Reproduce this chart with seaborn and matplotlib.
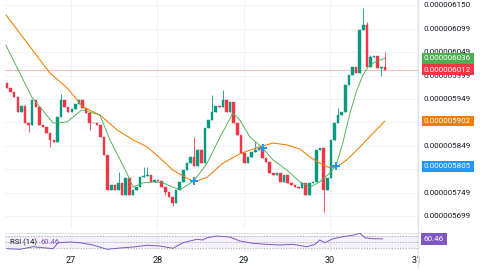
import numpy as np
import pandas as pd
import matplotlib
matplotlib.use("Agg")
import matplotlib.pyplot as plt
import matplotlib.transforms as mtransforms
from matplotlib.lines import Line2D
import seaborn as sns

# ─── Data (prices in units of 1e-9, one candle per hour) ───
first_open = 5983
closes = [
    5973, 5964, 5953, 5921, 5934, 5898, 5894, 5947, 5932, 5894,
    5889, 5877, 5862, 5857, 5911, 5947, 5932, 5921, 5928, 5939,
    5947, 5930, 5919, 5898, 5897, 5893, 5868, 5830, 5755, 5765,
    5755, 5770, 5744, 5780, 5744, 5755, 5761, 5782, 5785, 5786,
    5772, 5776, 5774, 5761, 5750, 5740, 5727, 5755, 5772, 5797,
    5812, 5825, 5806, 5840, 5812, 5887, 5904, 5921, 5934, 5932,
    5947, 5921, 5943, 5898, 5872, 5834, 5812, 5825, 5836, 5840,
    5845, 5823, 5815, 5791, 5787, 5791, 5772, 5787, 5770, 5765,
    5761, 5759, 5770, 5744, 5770, 5772, 5840, 5845, 5755, 5780,
    5862, 5898, 5915, 5921, 5979, 6000, 6018, 6005, 6097, 6107,
    6018, 6039, 6041, 6015, 6017, 6012,
]
wick_highs = {15: 5960, 31: 5793, 38: 5804, 39: 5804, 52: 5868, 57: 5958,
              60: 5968, 69: 5857, 92: 5930, 99: 6144, 100: 6114, 101: 6043,
              105: 6050}
wick_lows = {6: 5879, 12: 5847, 23: 5883, 44: 5744, 46: 5721, 88: 5708,
             104: 5998}

fast_ma_idx = [-0.3, 6.9, 12.8, 16.7, 20.8, 25.8, 28.6, 33.3, 35, 37.8,
               40.6, 43.3, 48, 51.9, 55.6, 59.2, 62.8, 64.7, 67.5, 71.1,
               73.9, 77.8, 81.4, 84.2, 86.9, 89.7, 91.4, 93.3, 95.3, 97.2,
               98.9, 100.3, 102.2, 105]
fast_ma = [6064, 5953, 5898, 5900, 5926, 5915, 5862, 5791, 5761, 5770,
           5772, 5770, 5755, 5774, 5812, 5868, 5919, 5904, 5868, 5844,
           5819, 5797, 5772, 5761, 5772, 5791, 5806, 5855, 5919, 5968,
           6000, 6017, 6028, 6036]
slow_ma_idx = [-0.3, 5.6, 11.9, 16.7, 21.1, 25.8, 30.6, 35, 38.9, 42.5,
               46.1, 50, 52.2, 55.6, 60, 64.7, 69.4, 73.9, 77.8, 81.4,
               84.2, 86.9, 89.7, 91.7, 94.4, 98.1, 101.7, 105]
slow_ma = [6129, 6069, 6005, 5973, 5932, 5915, 5883, 5862, 5847, 5823,
           5797, 5780, 5772, 5782, 5812, 5832, 5845, 5855, 5851, 5842,
           5825, 5812, 5802, 5804, 5819, 5847, 5876, 5902]
cross_idx = [51.9, 71.1, 91.4]
cross_val = [5774, 5844, 5806]

rsi_idx = [0, 3.6, 7.2, 10, 12.8, 14.2, 17.5, 20.3, 23.9, 27.8,
           31.4, 35, 38.9, 42.5, 46.1, 48.9, 52.8, 54.4, 55.6, 58.3,
           61.9, 64.7, 68.3, 72.2, 75.8, 79.4, 83.3, 85.6, 86.9, 88.3,
           90.6, 94.4, 96.1, 98.1, 99.4, 101.7, 104.4]
rsi_vals = [27.7, 25.6, 34.3, 31, 27.7, 47.7, 50, 47.7, 40, 25.6,
            30, 33.3, 39, 36.7, 29, 47.7, 59, 56.7, 64.3, 70,
            66.7, 53.3, 45.7, 42.3, 40, 42.3, 34.3, 42.3, 56.7, 47.7,
            61, 70, 72.3, 79, 64.3, 61, 60.46]

price_ticks = [5699, 5749, 5799, 5849, 5899, 5949, 5999, 6049, 6099, 6150]
day_labels = ["27", "28", "29", "30", "31"]
day_pos = [17.8, 41.8, 65.8, 89.8, 113.8]
last_price = 6012
fast_last = 6036
slow_last = 5902
cross_last = 5805
rsi_last = 60.46

# ─── Colors ───
UP = "#089981"
DOWN = "#f23645"
FAST = "#4caf50"
SLOW = "#f57c00"
CROSS = "#2196f3"
RSI_C = "#7e57c2"
GRID = "#f0f3fa"
TXT = "#131722"


def fmt(v):
    return f"{v * 1e-9:.9f}"


# ─── Build candle table ───
opens = [first_open] + closes[:-1]
df = pd.DataFrame({"i": np.arange(len(closes)), "open": opens, "close": closes})
df["high"] = df[["open", "close"]].max(axis=1)
df["low"] = df[["open", "close"]].min(axis=1)
for k, v in wick_highs.items():
    df.loc[k, "high"] = v
for k, v in wick_lows.items():
    df.loc[k, "low"] = v
df["color"] = np.where(df["close"] >= df["open"], UP, DOWN)

sns.set_theme(style="white")
plt.rcParams["font.family"] = ["Roboto", "DejaVu Sans"]

W, H = 480, 270
fig = plt.figure(figsize=(4.8, 2.7), dpi=100)
ax = fig.add_axes([5 / W, 1 - 229 / H, 413 / W, 229 / H])
rax = fig.add_axes([5 / W, 18 / H, 413 / W, 19.3 / H])

xlim = (-0.55, 114.2)

# ─── Main pane ───
for p in price_ticks:
    ax.axhline(p, color=GRID, lw=0.8, zorder=0)
for d in day_pos:
    ax.axvline(d, color=GRID, lw=0.8, zorder=0)

ax.vlines(df["i"], df["low"], df["high"], colors=df["color"], lw=0.6, zorder=2)
ax.bar(df["i"], df["close"] - df["open"], bottom=df["open"], width=0.7,
       color=df["color"], edgecolor=df["color"], linewidth=0.3, zorder=3)

sns.lineplot(x=slow_ma_idx, y=slow_ma, ax=ax, color=SLOW, lw=0.75, sort=False, zorder=4)
sns.lineplot(x=fast_ma_idx, y=fast_ma, ax=ax, color=FAST, lw=0.65, sort=False, zorder=5)
ax.scatter(cross_idx, cross_val, marker="P", s=26, color=CROSS, linewidths=0, zorder=6)

ax.axhline(last_price, color=DOWN, lw=0.7, alpha=0.35, zorder=1)

ax.set_xlim(*xlim)
ax.set_ylim(5671.3, 6160.7)
ax.set_xticks([])
ax.set_yticks([])
for s in ax.spines.values():
    s.set_visible(False)

# price scale labels (those fully hidden under the orange/blue boxes are skipped)
tr = mtransforms.blended_transform_factory(ax.transAxes, ax.transData)
lx = (424 - 5) / 413
for p in price_ticks:
    if abs(p - slow_last) < 8 or abs(p - cross_last) < 8:
        continue
    ax.text(lx, p, fmt(p), transform=tr, fontsize=5.8, color=TXT,
            va="center", ha="left", clip_on=False)

boxes = [(fast_last, FAST), (last_price, DOWN), (slow_last, SLOW), (cross_last, CROSS)]
for val, col in boxes:
    ax.text(lx, val, fmt(val), transform=tr, fontsize=5.8, color="white",
            va="center", ha="left", clip_on=False, zorder=10,
            bbox=dict(boxstyle="square,pad=0.3", fc=col, ec="none"))

# ─── RSI pane ───
for d in day_pos:
    rax.axvline(d, color=GRID, lw=0.8, zorder=0)
rax.axhspan(30, 70, color=RSI_C, alpha=0.08, lw=0, zorder=1)
for lvl in [30, 50, 70]:
    rax.axhline(lvl, color="#9598a1", lw=0.5, ls=(0, (2, 2)), zorder=2)
sns.lineplot(x=rsi_idx, y=rsi_vals, ax=rax, color=RSI_C, lw=0.7, sort=False, zorder=3)
rax.set_xlim(*xlim)
rax.set_ylim(16.7, 81)
rax.set_yticks([])
rax.set_xticks(day_pos)
rax.set_xticklabels(day_labels, fontsize=6.5, color=TXT)
rax.tick_params(axis="x", length=0, pad=3)
for name, s in rax.spines.items():
    s.set_visible(name == "top")
    s.set_color("#e0e3eb")
    s.set_linewidth(0.8)

rax.text(0.012, 0.5, "RSI (14)", transform=rax.transAxes, fontsize=5.5,
         color=TXT, va="center", ha="left")
rax.text(0.085, 0.5, f"{rsi_last:.2f}", transform=rax.transAxes, fontsize=5.5,
         color=RSI_C, va="center", ha="left")
rtr = mtransforms.blended_transform_factory(rax.transAxes, rax.transData)
rax.text((424 - 5) / 413, rsi_last, f"{rsi_last:.2f}", transform=rtr, fontsize=5.8,
         color="white", va="center", ha="left", clip_on=False,
         bbox=dict(boxstyle="square,pad=0.35", fc=RSI_C, ec="none"))

# right price-scale separator
fig.add_artist(Line2D([418 / W, 418 / W], [2 / H, 1], color="#e0e3eb", lw=0.8))

fig.savefig("out.png", dpi=100)
